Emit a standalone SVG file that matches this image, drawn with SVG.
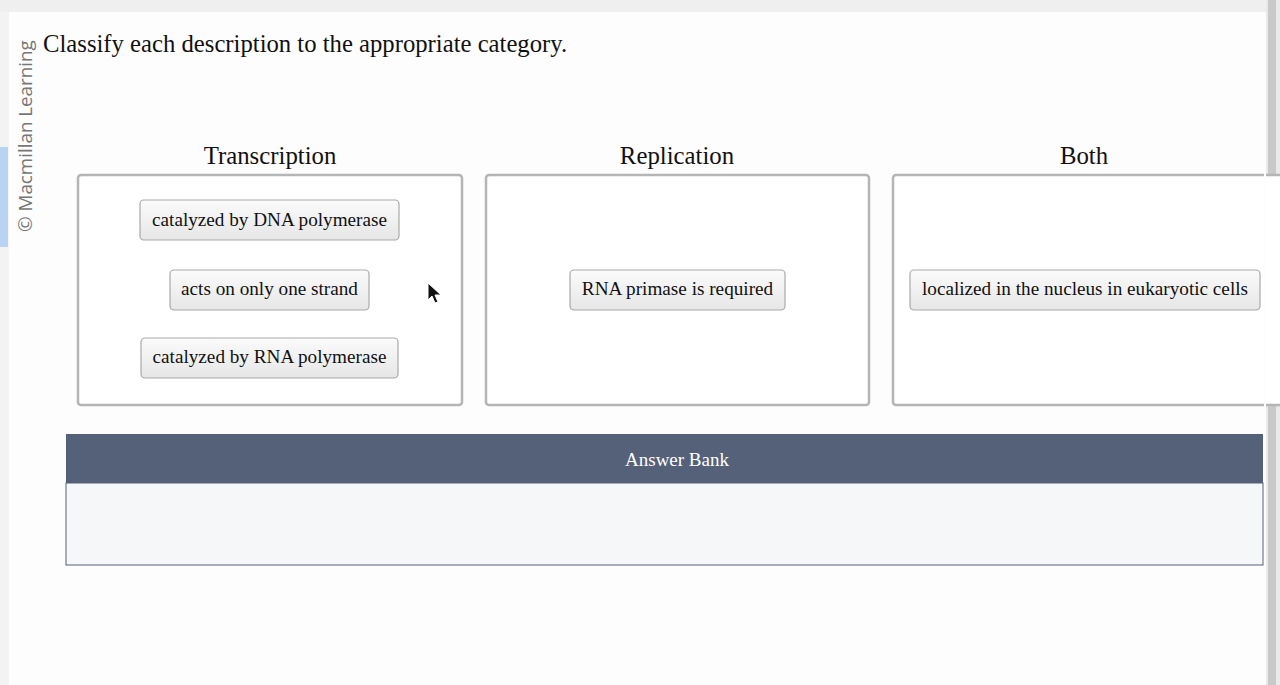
<svg xmlns="http://www.w3.org/2000/svg" width="1280" height="685" viewBox="0 0 1280 685">
<defs>
<linearGradient id="chip" x1="0" y1="0" x2="0" y2="1"><stop offset="0" stop-color="#fbfbfb"/><stop offset="1" stop-color="#e6e6e6"/></linearGradient>
<style>
.box{fill:#fff;stroke:#b5b5b5;stroke-width:2.5}
.chip{fill:url(#chip);stroke:#a9a9a9;stroke-width:1.2}
.ct{font-family:"Liberation Serif",serif;font-size:19.2px;fill:#111;text-anchor:middle}
.hd{font-family:"Liberation Serif",serif;font-size:24.8px;fill:#111;text-anchor:middle}
</style>
</defs>
<rect width="1280" height="685" fill="#fdfdfd"/>
<rect width="1280" height="12" fill="#efefef"/>
<rect x="0" y="12" width="9" height="673" fill="#f3f3f3"/>
<rect x="0" y="147" width="8" height="100" fill="#b8d4f2"/>
<rect x="1266" y="0" width="14" height="685" fill="#e9e9e9"/>
<rect x="1268" y="0" width="8" height="685" fill="#c9c9c9"/>
<text transform="translate(32,232) rotate(-90)" font-family="Open Sans,sans-serif" font-size="18.8" fill="#777">© Macmillan Learning</text>
<text x="43" y="52" font-family="Liberation Serif,serif" font-size="24.7" fill="#111">Classify each description to the appropriate category.</text>
<g id="transcription">
<text class="hd" x="270" y="164">Transcription</text>
<rect class="box" x="78" y="175" width="384" height="230" rx="3"/>
</g>
<g id="replication">
<text class="hd" x="677" y="164">Replication</text>
<rect class="box" x="486" y="175" width="383" height="230" rx="3"/>
</g>
<g id="both">
<text class="hd" x="1084" y="164">Both</text>
<rect class="box" x="893" y="175" width="400" height="230" rx="3"/>
</g>
<g id="chip-dna"><rect class="chip" x="140" y="200" width="259" height="40" rx="4"/><text class="ct" x="269.5" y="226">catalyzed by DNA polymerase</text></g>
<g id="chip-strand"><rect class="chip" x="170" y="270" width="199" height="40" rx="4"/><text class="ct" x="269.5" y="295">acts on only one strand</text></g>
<g id="chip-rna"><rect class="chip" x="141" y="338" width="257" height="40" rx="4"/><text class="ct" x="269.5" y="363">catalyzed by RNA polymerase</text></g>
<g id="chip-primase"><rect class="chip" x="570" y="270" width="215" height="40" rx="4"/><text class="ct" x="677.5" y="295">RNA primase is required</text></g>
<g id="chip-nucleus"><rect class="chip" x="910" y="270" width="350" height="40" rx="4"/><text class="ct" x="1085" y="295">localized in the nucleus in eukaryotic cells</text></g>
<rect x="1264" y="170" width="2" height="240" fill="#fdfdfd"/>
<g id="answer-bank">
<rect x="66" y="483" width="1197" height="82" fill="#f6f7f8" stroke="#546179" stroke-width="1"/>
<rect x="66" y="434" width="1197" height="49" fill="#546179"/>
<text x="677" y="466" font-family="Liberation Serif,serif" font-size="19" fill="#fff" text-anchor="middle">Answer Bank</text>
</g>
<g id="connectors"/>
<path d="M428,283 L428,300 L432,296 L435,303 L438,302 L435,295 L441,295 Z" fill="#111" stroke="#fff" stroke-width="1"/>
</svg>
